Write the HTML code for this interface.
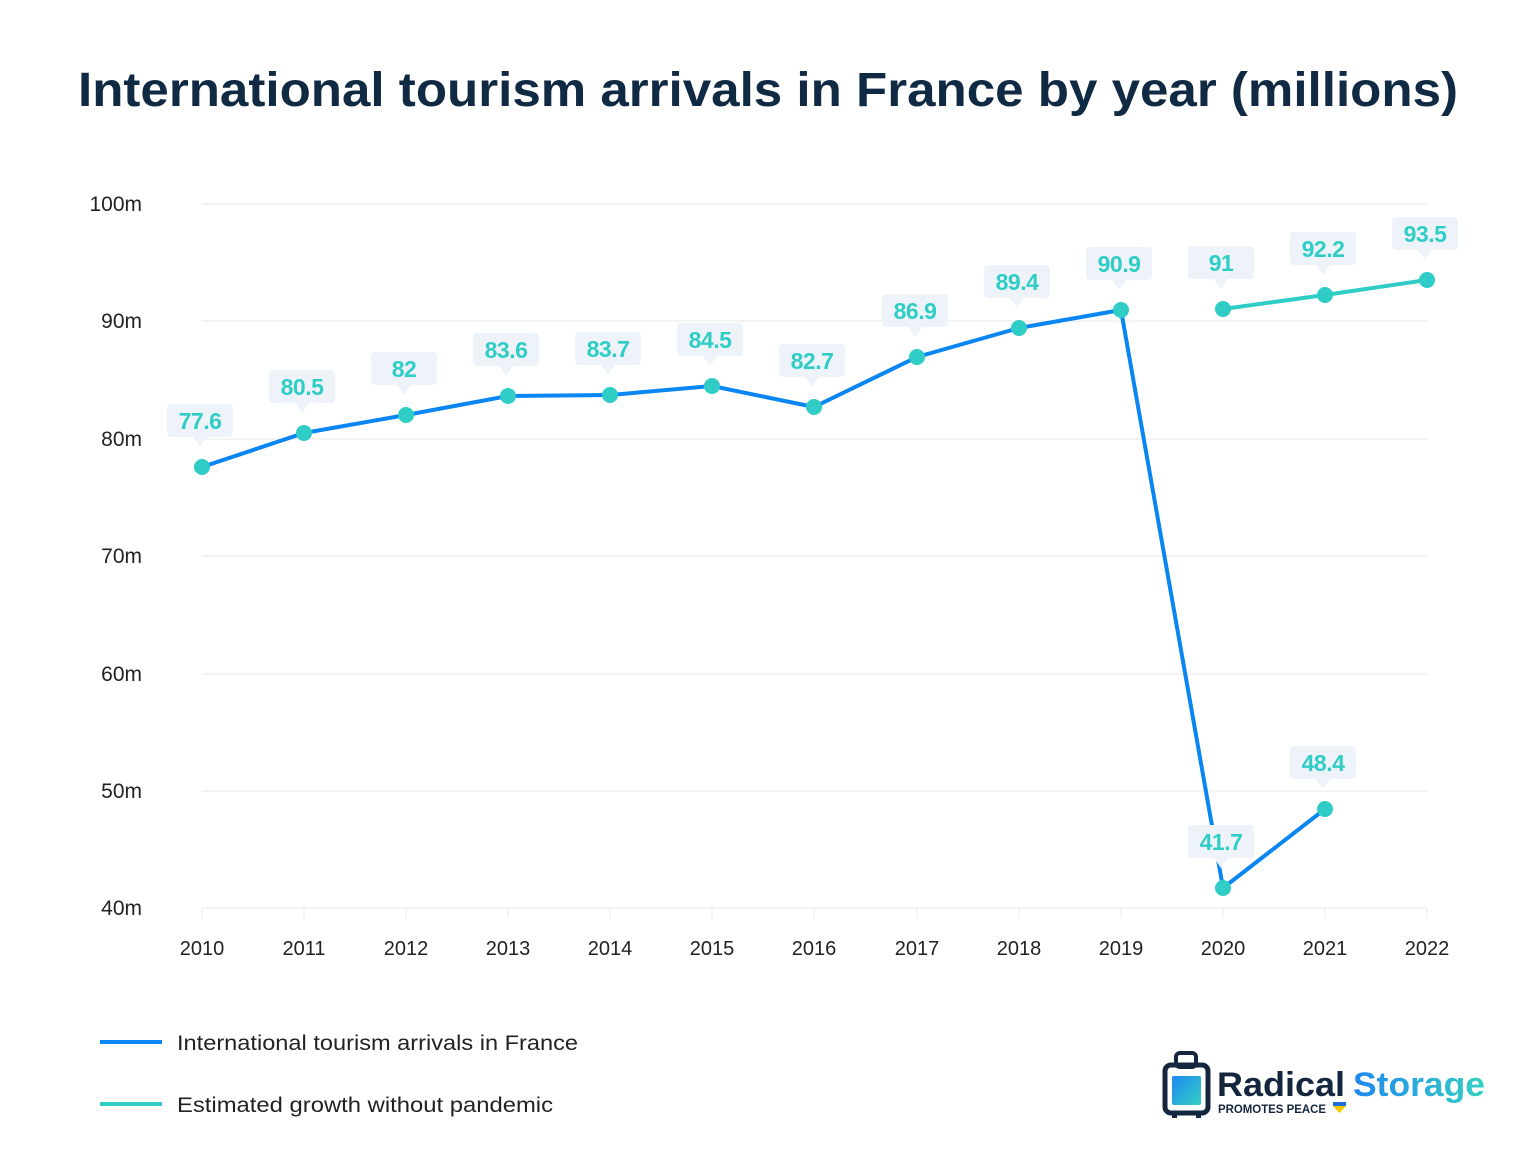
<!DOCTYPE html>
<html><head><meta charset="utf-8"><style>
html,body{margin:0;padding:0;background:#fff;}
svg{display:block;font-family:"Liberation Sans","DejaVu Sans",sans-serif;}
.yl{font-size:21px;fill:#222;text-anchor:end}
.xl{font-size:20px;fill:#222;text-anchor:middle}
.lb{font-size:23px;font-weight:bold;fill:#2fcdc5;text-anchor:middle;letter-spacing:-0.5px}
.bx{fill:#eef3fa}
</style></head><body>
<svg width="1536" height="1172" viewBox="0 0 1536 1172" xmlns="http://www.w3.org/2000/svg">
<text x="768" y="106" text-anchor="middle" font-size="48" font-weight="bold" fill="#102a43" textLength="1380" lengthAdjust="spacingAndGlyphs">International tourism arrivals in France by year (millions)</text>
<g stroke="#ececec" stroke-width="1.2">
<line x1="202" y1="204" x2="1427" y2="204"/><line x1="202" y1="321" x2="1427" y2="321"/><line x1="202" y1="439" x2="1427" y2="439"/><line x1="202" y1="556" x2="1427" y2="556"/><line x1="202" y1="674" x2="1427" y2="674"/><line x1="202" y1="791" x2="1427" y2="791"/><line x1="202" y1="908" x2="1427" y2="908"/>
<line x1="202" y1="908" x2="202" y2="918"/><line x1="304" y1="908" x2="304" y2="918"/><line x1="406" y1="908" x2="406" y2="918"/><line x1="508" y1="908" x2="508" y2="918"/><line x1="610" y1="908" x2="610" y2="918"/><line x1="712" y1="908" x2="712" y2="918"/><line x1="814" y1="908" x2="814" y2="918"/><line x1="917" y1="908" x2="917" y2="918"/><line x1="1019" y1="908" x2="1019" y2="918"/><line x1="1121" y1="908" x2="1121" y2="918"/><line x1="1223" y1="908" x2="1223" y2="918"/><line x1="1325" y1="908" x2="1325" y2="918"/><line x1="1427" y1="908" x2="1427" y2="918"/>
</g>
<text class="yl" x="142" y="211">100m</text><text class="yl" x="142" y="328">90m</text><text class="yl" x="142" y="446">80m</text><text class="yl" x="142" y="563">70m</text><text class="yl" x="142" y="681">60m</text><text class="yl" x="142" y="798">50m</text><text class="yl" x="142" y="915">40m</text>
<text class="xl" x="202" y="955">2010</text><text class="xl" x="304" y="955">2011</text><text class="xl" x="406" y="955">2012</text><text class="xl" x="508" y="955">2013</text><text class="xl" x="610" y="955">2014</text><text class="xl" x="712" y="955">2015</text><text class="xl" x="814" y="955">2016</text><text class="xl" x="917" y="955">2017</text><text class="xl" x="1019" y="955">2018</text><text class="xl" x="1121" y="955">2019</text><text class="xl" x="1223" y="955">2020</text><text class="xl" x="1325" y="955">2021</text><text class="xl" x="1427" y="955">2022</text>
<polyline fill="none" stroke="#0a86f2" stroke-width="4" stroke-linejoin="round" points="202,467 304,433 406,415 508,396 610,395 712,386 814,407 917,357 1019,328 1121,310 1223,888 1325,809"/>
<polyline fill="none" stroke="#2fcdc5" stroke-width="4" stroke-linejoin="round" points="1223,309 1325,295 1427,280"/>
<g fill="#2fcdc5">
<circle cx="202" cy="467" r="8"/><circle cx="304" cy="433" r="8"/><circle cx="406" cy="415" r="8"/><circle cx="508" cy="396" r="8"/><circle cx="610" cy="395" r="8"/><circle cx="712" cy="386" r="8"/><circle cx="814" cy="407" r="8"/><circle cx="917" cy="357" r="8"/><circle cx="1019" cy="328" r="8"/><circle cx="1121" cy="310" r="8"/><circle cx="1223" cy="888" r="8"/><circle cx="1325" cy="809" r="8"/><circle cx="1223" cy="309" r="8"/><circle cx="1325" cy="295" r="8"/><circle cx="1427" cy="280" r="8"/>
</g>
<g class="bx">
<rect x="167" y="404" width="66" height="33" rx="4"/><path d="M193,437 L207,437 L200,447Z"/>
<rect x="269" y="370" width="66" height="33" rx="4"/><path d="M295,403 L309,403 L302,413Z"/>
<rect x="371" y="352" width="66" height="33" rx="4"/><path d="M397,385 L411,385 L404,395Z"/>
<rect x="473" y="333" width="66" height="33" rx="4"/><path d="M499,366 L513,366 L506,376Z"/>
<rect x="575" y="332" width="66" height="33" rx="4"/><path d="M601,365 L615,365 L608,375Z"/>
<rect x="677" y="323" width="66" height="33" rx="4"/><path d="M703,356 L717,356 L710,366Z"/>
<rect x="779" y="344" width="66" height="33" rx="4"/><path d="M805,377 L819,377 L812,387Z"/>
<rect x="882" y="294" width="66" height="33" rx="4"/><path d="M908,327 L922,327 L915,337Z"/>
<rect x="984" y="265" width="66" height="33" rx="4"/><path d="M1010,298 L1024,298 L1017,308Z"/>
<rect x="1086" y="247" width="66" height="33" rx="4"/><path d="M1112,280 L1126,280 L1119,290Z"/>
<rect x="1188" y="825" width="66" height="33" rx="4"/><path d="M1214,858 L1228,858 L1221,868Z"/>
<rect x="1290" y="746" width="66" height="33" rx="4"/><path d="M1316,779 L1330,779 L1323,789Z"/>
<rect x="1188" y="246" width="66" height="33" rx="4"/><path d="M1214,279 L1228,279 L1221,289Z"/>
<rect x="1290" y="232" width="66" height="33" rx="4"/><path d="M1316,265 L1330,265 L1323,275Z"/>
<rect x="1392" y="217" width="66" height="33" rx="4"/><path d="M1418,250 L1432,250 L1425,260Z"/>
</g>
<text class="lb" x="200" y="429">77.6</text><text class="lb" x="302" y="395">80.5</text><text class="lb" x="404" y="377">82</text><text class="lb" x="506" y="358">83.6</text><text class="lb" x="608" y="357">83.7</text><text class="lb" x="710" y="348">84.5</text><text class="lb" x="812" y="369">82.7</text><text class="lb" x="915" y="319">86.9</text><text class="lb" x="1017" y="290">89.4</text><text class="lb" x="1119" y="272">90.9</text><text class="lb" x="1221" y="850">41.7</text><text class="lb" x="1323" y="771">48.4</text><text class="lb" x="1221" y="271">91</text><text class="lb" x="1323" y="257">92.2</text><text class="lb" x="1425" y="242">93.5</text>
<line x1="100" y1="1042" x2="162" y2="1042" stroke="#0a86f2" stroke-width="4"/>
<line x1="100" y1="1104" x2="162" y2="1104" stroke="#2fcdc5" stroke-width="4"/>
<text x="177" y="1050" font-size="21" fill="#222" textLength="401" lengthAdjust="spacingAndGlyphs">International tourism arrivals in France</text>
<text x="177" y="1112" font-size="21" fill="#222" textLength="376" lengthAdjust="spacingAndGlyphs">Estimated growth without pandemic</text>
<defs><linearGradient id="lg" x1="0" y1="0" x2="1" y2="1"><stop offset="0" stop-color="#1e88f0"/><stop offset="1" stop-color="#35d0c4"/></linearGradient>
<linearGradient id="tg" x1="0" y1="0" x2="1" y2="0"><stop offset="0" stop-color="#1e88f0"/><stop offset="1" stop-color="#35d0c4"/></linearGradient></defs>
<rect x="1176" y="1053" width="20" height="14" rx="4" fill="none" stroke="#13263d" stroke-width="4"/>
<rect x="1165" y="1065" width="43" height="48" rx="6" fill="none" stroke="#13263d" stroke-width="5"/>
<rect x="1172" y="1076" width="29" height="29" rx="2" fill="url(#lg)"/>
<rect x="1172" y="1113" width="5" height="5" fill="#13263d"/><rect x="1196" y="1113" width="5" height="5" fill="#13263d"/>
<text x="1217" y="1096" font-size="34" font-weight="bold" fill="#13263d" textLength="128" lengthAdjust="spacingAndGlyphs">Radical</text>
<text x="1353" y="1096" font-size="34" font-weight="bold" fill="url(#tg)" textLength="132" lengthAdjust="spacingAndGlyphs">Storage</text>
<text x="1218" y="1113" font-size="12" font-weight="bold" fill="#13263d" textLength="108" lengthAdjust="spacingAndGlyphs">PROMOTES PEACE</text>
<path d="M1333,1102 h13 v4 h-13z" fill="#1e6fd8"/><path d="M1333,1106 h13 l-6.5,7z" fill="#f5c800"/>
</svg>
</body></html>
